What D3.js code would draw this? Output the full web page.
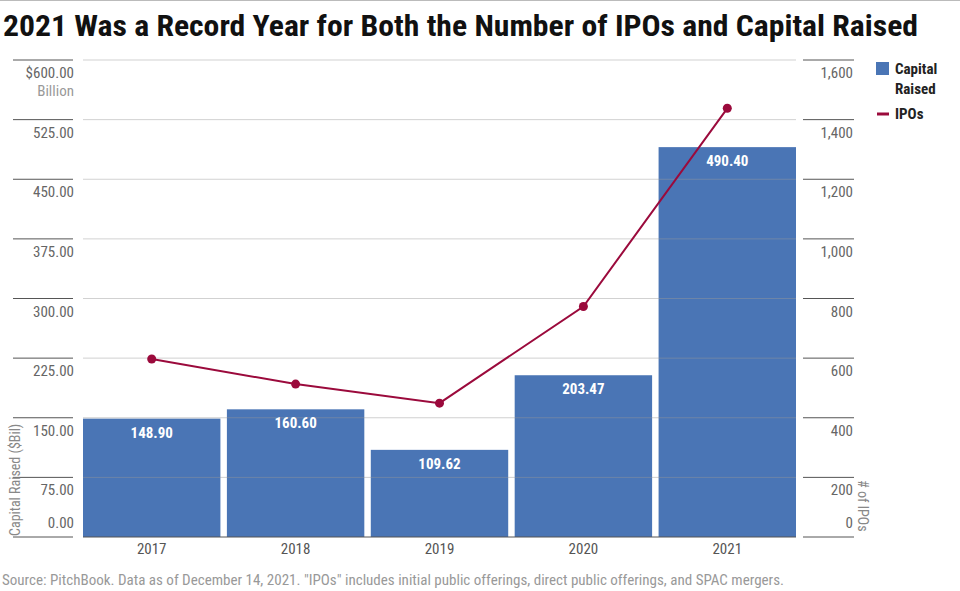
<!DOCTYPE html>
<html>
<head>
<meta charset="utf-8">
<script src="https://cdn.jsdelivr.net/npm/d3@7"></script>
<style>
  body { margin: 0; background: #fff; }
  text { font-family: "Roboto Condensed", "Liberation Sans Narrow", "DejaVu Sans Condensed", Roboto, sans-serif; }
</style>
</head>
<body>
<div id="chart"></div>
<script>
const years = ["2017", "2018", "2019", "2020", "2021"];
const capitalRaised = [148.90, 160.60, 109.62, 203.47, 490.40];
const ipoCounts = [597, 513, 449, 773, 1438];
const leftTicks = [0, 75, 150, 225, 300, 375, 450, 525, 600];
const rightTicks = [0, 200, 400, 600, 800, 1000, 1200, 1400, 1600];

const width = 960, height = 591;
const barColor = "#4a75b5";
const lineColor = "#9b0a3c";

const svg = d3.select("#chart").append("svg")
    .attr("width", width)
    .attr("height", height);

// thin rule along the top edge
svg.append("line")
    .attr("x1", 0).attr("x2", width).attr("y1", 0.5).attr("y2", 0.5)
    .style("stroke", "#bbb").style("stroke-width", 1);

// title
svg.append("text")
    .attr("x", 3).attr("y", 36)
    .attr("textLength", 915).attr("lengthAdjust", "spacingAndGlyphs")
    .style("font-size", "30px").style("font-weight", "bold").style("fill", "#111")
    .text("2021 Was a Record Year for Both the Number of IPOs and Capital Raised");

const x = d3.scaleBand().domain(years).range([83, 796]).paddingInner(0.045).paddingOuter(0);
const yL = d3.scaleLinear().domain([0, 600]).range([537, 60]);
const yR = d3.scaleLinear().domain([0, 1600]).range([537, 60]);

// bars
svg.selectAll(".bar")
    .data(years)
    .enter().append("rect")
    .attr("x", d => x(d))
    .attr("width", x.bandwidth())
    .attr("y", (d, i) => yL(capitalRaised[i]))
    .attr("height", (d, i) => yL(0) - yL(capitalRaised[i]))
    .style("fill", barColor);

// gridlines (faintly visible through the bars)
svg.selectAll(".grid")
    .data(leftTicks.slice(1))
    .enter().append("line")
    .attr("x1", 83).attr("x2", 796)
    .attr("y1", d => yL(d)).attr("y2", d => yL(d))
    .style("stroke", "#999").style("stroke-opacity", 0.45).style("stroke-width", 1);

// left tick marks + labels
svg.selectAll(".ltick")
    .data(leftTicks)
    .enter().append("line")
    .attr("x1", 13).attr("x2", 73)
    .attr("y1", d => yL(d)).attr("y2", d => yL(d))
    .style("stroke", "#555").style("stroke-width", 1);

svg.selectAll(".llab")
    .data(leftTicks)
    .enter().append("text")
    .attr("x", 74)
    .attr("y", d => d === 0 ? yL(d) - 9 : yL(d) + 18)
    .attr("text-anchor", "end")
    .style("font-size", "15px").style("fill", "#666")
    .text(d => d === 600 ? "$600.00" : d3.format(".2f")(d));

svg.append("text")
    .attr("x", 74).attr("y", yL(600) + 36)
    .attr("text-anchor", "end")
    .style("font-size", "15px").style("fill", "#999")
    .text("Billion");

// right tick marks + labels
svg.selectAll(".rtick")
    .data(rightTicks)
    .enter().append("line")
    .attr("x1", 803).attr("x2", 854)
    .attr("y1", d => yR(d)).attr("y2", d => yR(d))
    .style("stroke", "#555").style("stroke-width", 1);

svg.selectAll(".rlab")
    .data(rightTicks)
    .enter().append("text")
    .attr("x", 853)
    .attr("y", d => d === 0 ? yR(d) - 9 : yR(d) + 18)
    .attr("text-anchor", "end")
    .style("font-size", "15px").style("fill", "#666")
    .text(d => d3.format(",")(d));

// axis titles
svg.append("text")
    .attr("transform", "translate(20,536) rotate(-90)")
    .style("font-size", "14px").style("fill", "#888")
    .text("Capital Raised ($Bil)");

svg.append("text")
    .attr("transform", "translate(858,480) rotate(90)")
    .style("font-size", "14px").style("fill", "#888")
    .text("# of IPOs");

svg.selectAll(".barlab")
    .data(years)
    .enter().append("text")
    .attr("x", d => x(d) + x.bandwidth() / 2)
    .attr("y", (d, i) => yL(capitalRaised[i]) + 19)
    .attr("text-anchor", "middle")
    .style("font-size", "15px").style("font-weight", "bold").style("fill", "#fff")
    .text((d, i) => d3.format(".2f")(capitalRaised[i]));

// baseline
svg.append("line")
    .attr("x1", 83).attr("x2", 796)
    .attr("y1", 537).attr("y2", 537)
    .style("stroke", "#555").style("stroke-width", 1);

// x labels
svg.selectAll(".xlab")
    .data(years)
    .enter().append("text")
    .attr("x", d => x(d) + x.bandwidth() / 2)
    .attr("y", 554)
    .attr("text-anchor", "middle")
    .style("font-size", "15px").style("fill", "#555")
    .text(d => d);

// IPO line
const line = d3.line()
    .x((d, i) => x(years[i]) + x.bandwidth() / 2)
    .y(d => yR(d));

svg.append("path")
    .datum(ipoCounts)
    .attr("d", line)
    .style("fill", "none").style("stroke", lineColor).style("stroke-width", 2);

svg.selectAll(".dot")
    .data(ipoCounts)
    .enter().append("circle")
    .attr("cx", (d, i) => x(years[i]) + x.bandwidth() / 2)
    .attr("cy", d => yR(d))
    .attr("r", 4.5)
    .style("fill", lineColor);

// legend
svg.append("rect")
    .attr("x", 876).attr("y", 62).attr("width", 13).attr("height", 13)
    .style("fill", barColor);
svg.append("text")
    .attr("x", 895).attr("y", 74)
    .style("font-size", "15px").style("font-weight", "bold").style("fill", "#222")
    .text("Capital");
svg.append("text")
    .attr("x", 895).attr("y", 94)
    .style("font-size", "15px").style("font-weight", "bold").style("fill", "#222")
    .text("Raised");
svg.append("line")
    .attr("x1", 877).attr("x2", 889).attr("y1", 114).attr("y2", 114)
    .style("stroke", lineColor).style("stroke-width", 3);
svg.append("text")
    .attr("x", 895).attr("y", 119)
    .style("font-size", "15px").style("font-weight", "bold").style("fill", "#222")
    .text("IPOs");

// source
svg.append("text")
    .attr("x", 2).attr("y", 585)
    .attr("textLength", 782).attr("lengthAdjust", "spacingAndGlyphs")
    .style("font-size", "14px").style("fill", "#999")
    .text("Source: PitchBook. Data as of December 14, 2021. \"IPOs\" includes initial public offerings, direct public offerings, and SPAC mergers.");
</script>
</body>
</html>
